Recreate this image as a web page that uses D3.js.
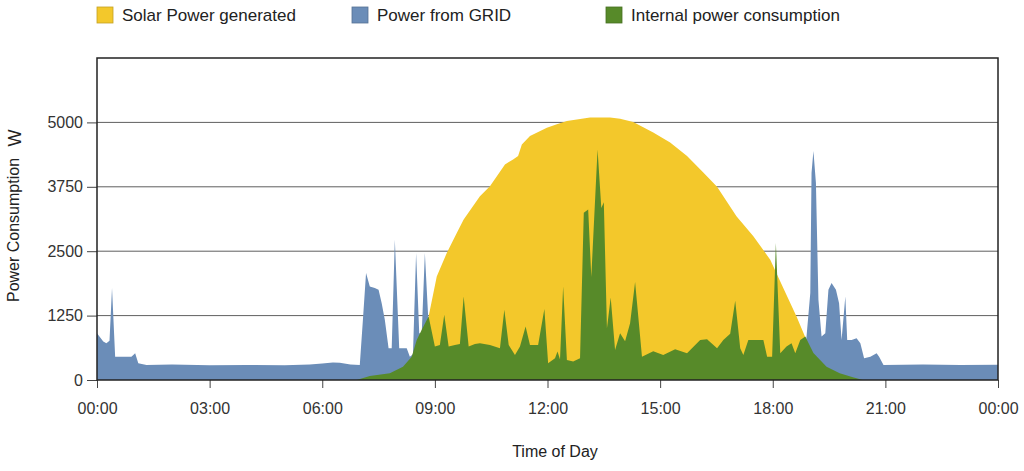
<!doctype html>
<html lang="en">
<head>
    <meta charset="utf-8"/>
    <title>Power Consumption - Time of Day</title>
    <style>
        body { margin: 0; background: #fff; }
        svg { display: block; font-family: "Liberation Sans", Arial, sans-serif; }
    </style>
</head>
<body>
    <svg></svg>
    <script src="https://d3js.org/d3.v7.min.js"></script>
    <script>
        // series names + colours for the legend
        const seriesNames = ["Solar Power generated", "Power from GRID", "Internal power consumption"];
        const seriesColors = ["#f3c82b", "#6b8db8", "#578a29"];

        // y axis ticks (W)
        const yTicks = [0, 1250, 2500, 3750, 5000];

        // solar power generated
        const solarTimes = ["00:00","07:00","08:00","08:30","08:40","08:50","09:03","09:19","09:35","09:46",
            "10:12","10:28","10:52","11:05","11:13","11:19","11:32","11:59","12:15","12:31",
            "13:08","13:40","13:56","14:17","14:49","15:16","15:43","16:09","16:31","17:02",
            "17:29","17:56","18:17","18:38","18:52","19:05","19:26","19:47","20:08","20:22","24:00"];
        const solarValues = [0,0,150,350,800,1232,2010,2465,2855,3113,
            3567,3762,4184,4281,4346,4573,4735,4898,4962,5027,
            5093,5093,5073,5007,4806,4612,4346,4028,3750,3178,
            2789,2335,1780,1232,830,510,250,120,45,0,0];

        // power taken from the grid
        const gridTimes = ["00:00","00:10","00:15","00:20","00:24","00:29","00:55","01:01","01:06","01:19",
            "02:00","03:00","04:00","05:00","05:40","06:00","06:17","06:28","06:45","07:00",
            "07:05","07:10","07:16","07:24","07:30","07:35","07:40","07:46","07:51","07:56",
            "08:03","08:15","08:20","08:25","08:30","08:35","08:39","08:44","08:49","08:55",
            "09:00","18:45","18:54","19:00","19:02","19:05","19:09","19:13","19:18","19:24",
            "19:29","19:34","19:41","19:46","19:50","19:56","19:59","20:06","20:14","20:20",
            "20:26","20:36","20:46","20:50","20:57","22:00","23:00","24:00"];
        const gridValues = [908,746,714,760,1784,453,453,519,325,292,
            300,285,290,285,300,320,340,337,300,292,
            1168,2076,1816,1784,1751,1492,1168,617,617,2724,
            617,617,453,500,2465,908,908,2465,1297,300,
            0,0,843,1687,4021,4443,3826,1557,843,908,
            1751,1881,1751,1492,778,1621,778,778,811,714,
            422,453,519,453,292,300,290,295];

        // internal power consumption
        const useTimes = ["00:00","06:55","07:16","07:48","08:09","08:23","08:31","08:40","08:50","09:00",
            "09:08","09:15","09:22","09:32","09:40","09:46","09:54","10:04","10:12","10:28",
            "10:44","10:51","10:58","11:08","11:16","11:25","11:32","11:45","11:55","12:01",
            "12:12","12:16","12:20","12:25","12:31","12:41","12:52","12:58","13:05","13:10",
            "13:20","13:26","13:30","13:35","13:41","13:48","13:56","14:04","14:12","14:20",
            "14:31","14:49","15:05","15:24","15:43","16:04","16:15","16:31","16:41","16:52",
            "17:00","17:08","17:13","17:21","17:45","17:51","17:59","18:05","18:12","18:22",
            "18:30","18:36","18:44","18:52","19:05","19:26","19:47","20:08","20:24","24:00"];
        const useValues = [0,0,80,130,259,453,778,1000,1232,648,
            680,1265,648,680,700,1621,650,700,714,680,
            617,1362,681,487,650,1037,681,681,1376,325,
            422,551,400,1816,389,357,422,3244,3308,2000,
            4476,3340,3450,1000,1600,584,908,750,1100,1900,
            453,560,487,597,519,778,792,617,778,900,
            1540,617,487,778,778,453,453,2660,519,648,
            714,519,778,843,525,259,130,52,0,0];

        const width = 1024, height = 471;
        const margin = {top: 58, right: 26, bottom: 91, left: 97};

        const toMin = s => { const p = s.split(":"); return +p[0] * 60 + +p[1]; };
        const pairs = (ts, vs) => ts.map((t, i) => ({t: toMin(t), v: vs[i]}));

        const x = d3.scaleLinear().domain([0, 1440]).range([margin.left, width - margin.right]);
        const y = d3.scaleLinear().domain([0, 6250]).range([height - margin.bottom, margin.top]);

        const svg = d3.select("svg")
            .attr("width", width)
            .attr("height", height)
            .attr("viewBox", [0, 0, width, height]);

        // horizontal grid lines (behind the areas)
        svg.append("g")
            .selectAll("line")
            .data(yTicks.filter(d => d > 0))
            .join("line")
                .attr("x1", x(0)).attr("x2", x(1440))
                .attr("y1", d => y(d)).attr("y2", d => y(d))
                .attr("stroke", "#5f5f5f")
                .attr("stroke-width", 1);

        const area = d3.area()
            .x(d => x(d.t))
            .y0(y(0))
            .y1(d => y(d.v));

        // solar behind, grid, then internal use in front
        const layers = [
            pairs(solarTimes, solarValues),
            pairs(gridTimes, gridValues),
            pairs(useTimes, useValues)
        ];
        svg.append("g")
            .selectAll("path")
            .data(layers)
            .join("path")
                .attr("d", area)
                .attr("fill", (d, i) => seriesColors[i]);

        // axes
        const pad = n => String(n).padStart(2, "0");
        const xAxis = svg.append("g")
            .attr("transform", `translate(0,${y(0)})`)
            .call(d3.axisBottom(x)
                .tickValues(d3.range(0, 1441, 180))
                .tickSize(8)
                .tickPadding(15)
                .tickFormat(m => pad(Math.floor(m / 60) % 24) + ":00"));

        const yAxis = svg.append("g")
            .attr("transform", `translate(${x(0)},0)`)
            .call(d3.axisLeft(y)
                .tickValues(yTicks)
                .tickSize(10)
                .tickPadding(4)
                .tickFormat(d3.format("d")));

        [xAxis, yAxis].forEach(a => {
            a.select(".domain").remove();
            a.selectAll(".tick line").attr("stroke", "#444");
            a.selectAll(".tick text")
                .attr("fill", "#333")
                .style("font-size", "16px")
                .style("font-family", "'Liberation Sans', Arial, sans-serif");
        });

        // plot frame
        svg.append("rect")
            .attr("x", x(0)).attr("y", y(6250))
            .attr("width", x(1440) - x(0))
            .attr("height", y(0) - y(6250))
            .attr("fill", "none")
            .attr("stroke", "#222")
            .attr("stroke-width", 1.5);

        // axis titles
        svg.append("text")
            .attr("x", 555).attr("y", 457)
            .attr("text-anchor", "middle")
            .attr("fill", "#222")
            .style("font-size", "16px")
            .text("Time of Day");

        svg.append("text")
            .attr("transform", "translate(19,230) rotate(-90)")
            .attr("text-anchor", "middle")
            .attr("fill", "#222")
            .style("font-size", "16px")
            .text("Power Consumption");

        svg.append("text")
            .attr("transform", "translate(21,138) rotate(-90)")
            .attr("text-anchor", "middle")
            .attr("fill", "#222")
            .style("font-size", "18px")
            .text("W");

        // legend
        const legendX = [97, 352, 606];
        const legend = svg.append("g")
            .selectAll("g")
            .data(seriesNames)
            .join("g")
                .attr("transform", (d, i) => `translate(${legendX[i]},7)`);
        legend.append("rect")
            .attr("width", 16).attr("height", 16)
            .attr("fill", (d, i) => seriesColors[i])
            .attr("stroke", (d, i) => d3.color(seriesColors[i]).darker(0.6))
            .attr("stroke-width", 0.8);
        legend.append("text")
            .attr("x", 25).attr("y", 14)
            .attr("fill", "#222")
            .style("font-size", "17px")
            .text(d => d);
    </script>
</body>
</html>
